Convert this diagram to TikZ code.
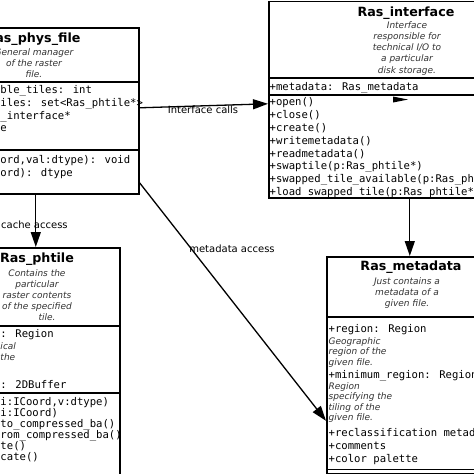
\documentclass[tikz,border=0pt]{standalone}
\usepackage{fontspec}
\setmainfont{DejaVu Sans}
\newfontfamily\umlmono{DejaVu Sans Mono}
\usetikzlibrary{arrows.meta}
\tikzset{
  umlbox/.style={draw=black, line width=1.6pt, inner sep=0pt, anchor=north west},
  sepline/.style={draw=black, line width=1.4pt},
  umltitle/.style={font=\fontsize{12.7}{15}\selectfont\bfseries, inner sep=0pt, anchor=base},
  umldesc/.style={font=\fontsize{9}{11}\selectfont\itshape, text=black!80, inner sep=0pt, anchor=base},
  umladesc/.style={font=\fontsize{9}{11}\selectfont\itshape, text=black!80, inner sep=0pt, anchor=base west},
  umlmonotext/.style={font=\umlmono\fontsize{10.6}{12.7}\selectfont, inner sep=0pt, anchor=base west},
  umllabel/.style={font=\fontsize{10}{12}\selectfont, inner sep=0pt, anchor=base},
  umlarrow/.style={draw=black, line width=1.3pt, -{Triangle[length=15pt,width=10pt]}},
}
\begin{document}
\begin{tikzpicture}[x=1pt,y=-1pt]
\useasboundingbox (0,0) rectangle (474,474);
\fill[white] (0,0) rectangle (474,474);
\clip (0,0) rectangle (474,474);

% ---------- Ras_phys_file ----------
\node[umlbox, minimum width=210pt, minimum height=166pt] (phys) at (-72,27) {};
\draw[sepline] (phys.west |- 0,82) -- (phys.east |- 0,82);
\draw[sepline] (phys.west |- 0,150) -- (phys.east |- 0,150);
\node[umltitle] (physT) at (33,42.6) {Ras\_phys\_file};
\foreach \t [count=\i] in {General manager, of the raster, file.}
  \node[umldesc] (physD\i) at (34,{52+3.2+(\i-1)*11}) {\t};
\foreach \t [count=\i] in {ble\_tiles: int, iles: set<Ras\_phtile*>, \_interface*, e}
  \node[umlmonotext] (physA\i) at (0.3,{90+3.6+(\i-1)*12.7}) {\t};
\foreach \t [count=\i] in {{ord,val:dtype): void}, ord): dtype}
  \node[umlmonotext] (physM\i) at (0.3,{160+3.6+(\i-1)*12.7}) {\t};

% ---------- Ras_interface ----------
\node[umlbox, minimum width=276pt, minimum height=196.5pt] (iface) at (268,0.5) {};
\draw[sepline] (iface.west |- 0,78) -- (iface.east |- 0,78);
\draw[sepline] (iface.west |- 0,95) -- (iface.east |- 0,95);
\node[umltitle] (ifaceT) at (406,16.6) {Ras\_interface};
\foreach \t [count=\i] in {Interface, responsible for, technical I/O to, a particular, disk storage.}
  \node[umldesc] (ifaceD\i) at (407,{25+3.2+(\i-1)*11.25}) {\t};
\node[umlmonotext] (ifaceA1) at (269.5,90.6) {+metadata: Ras\_metadata};
\foreach \t [count=\i] in {+open(), +close(), +create(), +writemetadata(), +readmetadata(), +swaptile(p:Ras\_phtile*), +swapped\_tile\_available(p:Ras\_phtile*), +load\_swapped\_tile(p:Ras\_phtile*)}
  \node[umlmonotext] (ifaceM\i) at (269.5,{102+3.6+(\i-1)*12.86}) {\t};
\fill[black] (393,96.5) -- (408,99.5) -- (393,102.5) -- cycle;

% ---------- Ras_phtile ----------
\node[umlbox, minimum width=164pt, minimum height=250pt] (phtile) at (-45,247) {};
\draw[sepline] (phtile.west |- 0,326) -- (phtile.east |- 0,326);
\draw[sepline] (phtile.west |- 0,393) -- (phtile.east |- 0,393);
\node[umltitle] (phtileT) at (37,262.5) {Ras\_phtile};
\foreach \t [count=\i] in {Contains the, particular, raster contents, of the specified}
  \node[umldesc] (phtileD\i) at (37,{273+3.2+(\i-1)*11}) {\t};
\node[umldesc] (phtileD5) at (47,320.2) {tile.};
\node[umlmonotext] (phtileA1) at (0.3,337.6) {: Region};
\node[umladesc] (phtileA2) at (0.3,349.2) {ical};
\node[umladesc] (phtileA3) at (0.3,360.2) {the};
\node[umlmonotext] (phtileA4) at (0.3,388.6) {: 2DBuffer};
\foreach \t [count=\i] in {{i:ICoord,v:dtype)}, i:ICoord), to\_compressed\_ba(), rom\_compressed\_ba(), te(), cate()}
  \node[umlmonotext] (phtileM\i) at (0.3,{401.5+3.6+(\i-1)*11.1}) {\t};

% ---------- Ras_metadata ----------
\node[umlbox, minimum width=170pt, minimum height=217pt] (meta) at (326,256) {};
\draw[sepline] (meta.west |- 0,317) -- (meta.east |- 0,317);
\draw[sepline] (meta.west |- 0,469.5) -- (meta.east |- 0,469.5);
\node[umltitle] (metaT) at (411,270.6) {Ras\_metadata};
\foreach \t [count=\i] in {Just contains a, metadata of a, given file.}
  \node[umldesc] (metaD\i) at (407,{281+3.2+(\i-1)*11}) {\t};
\node[umlmonotext] (metaA1) at (328.5,332.6) {+region: Region};
\foreach \t [count=\i] in {Geographic, region of the, given file.}
  \node[umladesc] (metaAD\i) at (328.5,{341+3.2+(\i-1)*10.5}) {\t};
\node[umlmonotext] (metaA2) at (328.5,378.6) {+minimum\_region: Region};
\foreach \t [count=\i] in {Region, specifying the, tiling of the, given file.}
  \node[umladesc] (metaBD\i) at (328.5,{386+3.2+(\i-1)*10.4}) {\t};
\foreach \t [count=\i] in {+reclassification metadata, +comments, +color palette}
  \node[umlmonotext] (metaC\i) at (328.5,{433+3.6+(\i-1)*13}) {\t};

% ---------- connectors ----------
\draw[umlarrow] ([yshift=3pt]phys.east) -- ([yshift=-4.25pt]iface.west);
\node[umllabel] (lblIface) at (203,113.6) {Interface calls};
\draw[umlarrow] ([xshift=2pt]phys.south) -- ([xshift=-2pt]phtile.north);
\node[umllabel, anchor=base west] (lblCache) at (1,228.6) {cache access};
\draw[umlarrow] ([xshift=3pt]iface.south) -- ([xshift=-2pt]meta.north);
\draw[umlarrow] ([yshift=-72pt]phys.east) -- ([yshift=-55.5pt]meta.west);
\node[umllabel] (lblMeta) at (232,252.6) {metadata access};
\end{tikzpicture}
\end{document}
